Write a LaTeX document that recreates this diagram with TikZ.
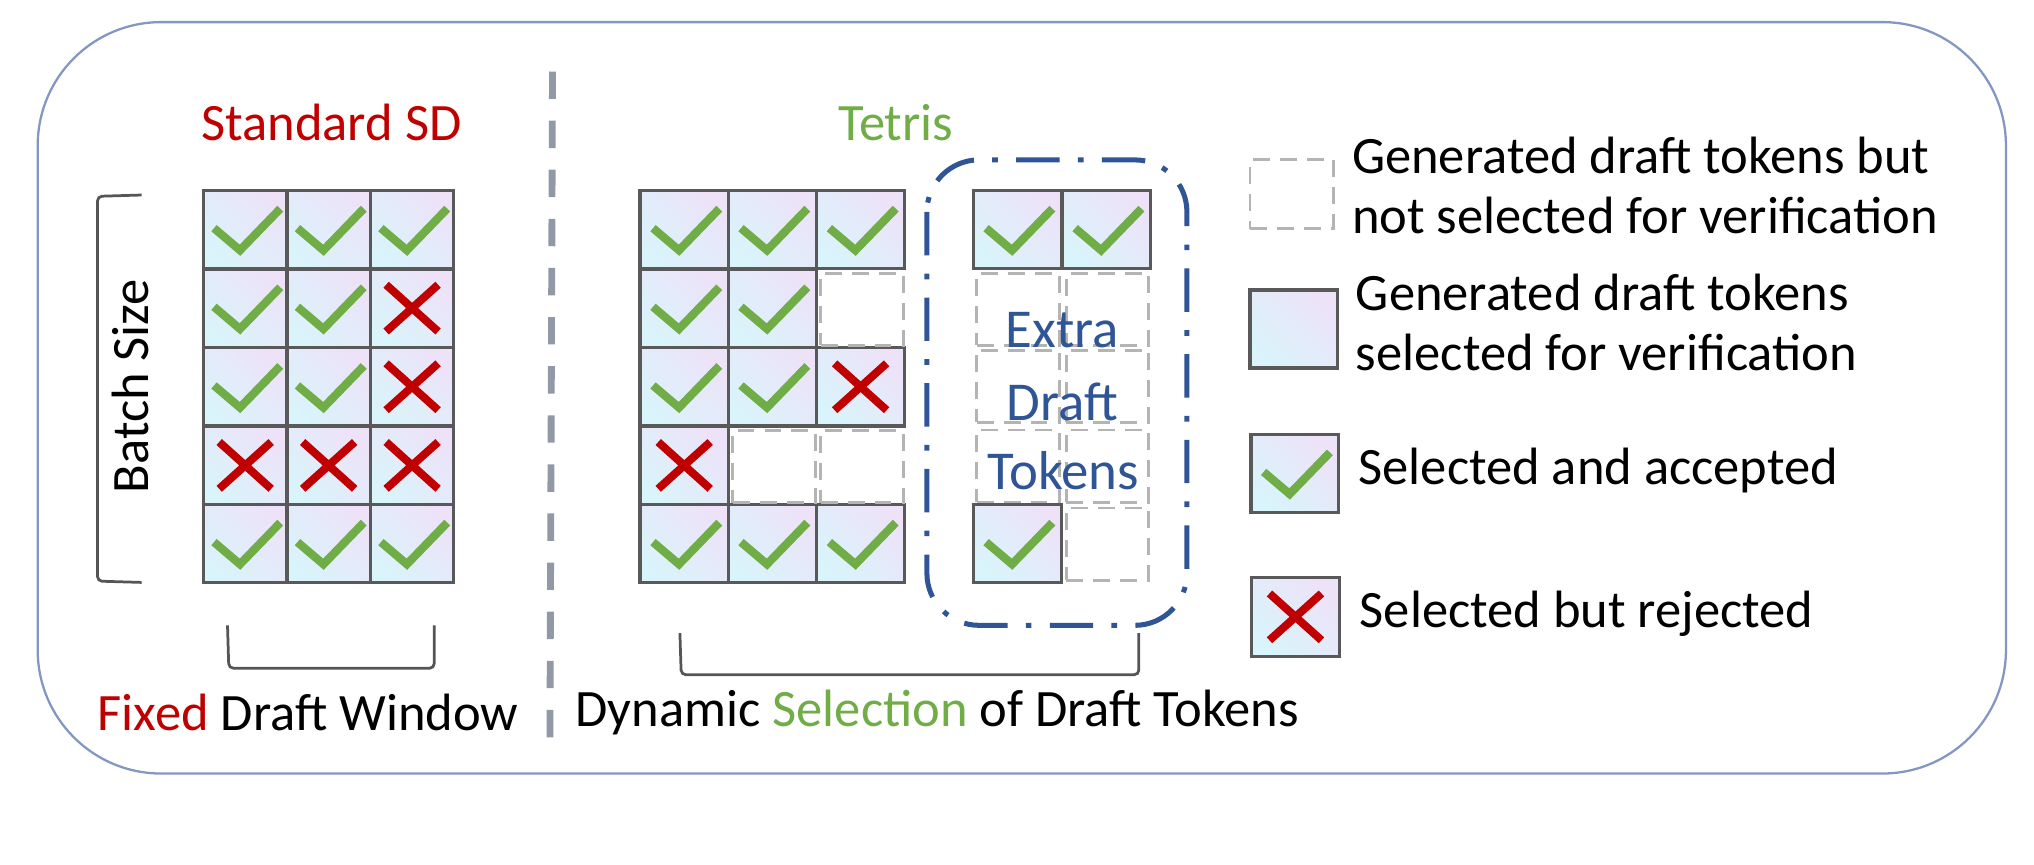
\documentclass[tikz,border=0pt]{standalone}
\usepackage{fontspec}
\setmainfont{Carlito}
\usetikzlibrary{calc}
\definecolor{outerc}{HTML}{8497C2}
\definecolor{sepc}{HTML}{9198A6}
\definecolor{cellborder}{HTML}{595959}
\definecolor{cellA}{HTML}{D9F4FB}
\definecolor{cellB}{HTML}{EEE2F8}
\definecolor{okgreen}{HTML}{70AD47}
\definecolor{badred}{HTML}{C00000}
\definecolor{extrablue}{HTML}{2F5597}
\definecolor{dashgray}{HTML}{B4B4B4}
\definecolor{brk}{HTML}{555555}
\newcommand{\mkchk}[1]{\draw[chkline] ([shift={(-24,-1)}]#1.center) -- ([shift={(-4,16)}]#1.center) -- ([shift={(27,-16)}]#1.center);}
\newcommand{\mkcrs}[1]{\draw[crsline] ([shift={(-20,-18)}]#1.center) -- ([shift={(20,18)}]#1.center) ([shift={(20,-18)}]#1.center) -- ([shift={(-20,18)}]#1.center);}
\tikzset{
  txt/.style={font=\fontsize{23pt}{26pt}\selectfont, inner sep=0pt, outer sep=0pt},
  bigtxt/.style={font=\fontsize{24pt}{27pt}\selectfont, inner sep=0pt, outer sep=0pt},
  cellbox/.style={draw=cellborder, line width=1.45pt, top color=cellB, bottom color=cellA, shading angle=-45, inner sep=0pt, outer sep=0pt},
  cellL/.style={cellbox, minimum width=1.284cm, minimum height=1.208cm},
  cellM/.style={cellbox, minimum width=1.356cm, minimum height=1.208cm},
  dashcell/.style={draw=dashgray, line width=1.3pt, dash pattern=on 7.4pt off 4.4pt, inner sep=0pt, outer sep=0pt},
  dcellM/.style={dashcell, minimum width=1.27cm, minimum height=1.11cm},
  chkline/.style={draw=okgreen, line width=3.6pt, line join=miter},
  crsline/.style={draw=badred, line width=3.5pt},
  bracket/.style={draw=brk, line width=1.2pt, rounded corners=2pt},
  outerbox/.style={draw=outerc, line width=1pt, rounded corners=1.9cm},
  sepline/.style={draw=sepc, line width=3pt, dash pattern=on 12pt off 9.5pt},
  extrabox/.style={draw=extrablue, line width=2.2pt, rounded corners=0.8cm, dash pattern=on 19pt off 8pt on 2.5pt off 8pt},
}
\begin{document}
\begin{tikzpicture}[x=0.02cm, y=-0.02cm]
\useasboundingbox (0,0) rectangle (1564.6,664.6);
% outer frame
\draw[outerbox] (29,17) rectangle (1543,595);
% separator
\draw[sepline] (425,55) -- (423,572);

% titles
\node[txt, text=badred] (tstd) at (255,94) {Standard SD};
\node[txt, text=okgreen] (ttet) at (689,94) {Tetris};

% left grid
\foreach \r/\y in {1/176.5,2/237,3/297.5,4/358,5/418}{
  \foreach \c/\x in {1/188.6,2/252.8,3/317}{
    \node[cellL] (L\r\c) at (\x,\y) {};
  }
}
\foreach \n in {L11,L12,L13,L21,L22,L31,L32,L51,L52,L53} {\mkchk{\n}}
\foreach \n in {L23,L33,L41,L42,L43} {\mkcrs{\n}}

% batch size bracket
\draw[bracket] (109,150) -- (75,151) -- (75,447) -- (109,448);
\node[txt, rotate=90] (bs) at (100,297) {Batch Size};

% left bottom bracket
\draw[bracket] (175,481) -- (176,514) -- (334,514) -- (334,481);
\node[txt] (fdw) at (237,548) {\textcolor{badred}{Fixed} Draft Window};

% middle grid
\foreach \n/\x/\y in {M11/526.3/176.5, M12/594/176.5, M13/662/176.5,
                      M21/526.3/237, M22/594/237,
                      M31/526.3/297.5, M32/594/297.5, M33/662/297.5,
                      M41/526.3/358,
                      M51/526.3/418, M52/594/418, M53/662/418}{
  \node[cellM] (\n) at (\x,\y) {};
}
\foreach \n/\x/\y in {M23/663/238, M42/595.5/359, M43/663/359}{
  \node[dcellM] (\n) at (\x,\y) {};
}
\foreach \n in {M11,M12,M13,M21,M22,M31,M32,M51,M52,M53} {\mkchk{\n}}
\foreach \n in {M33,M41} {\mkcrs{\n}}

% extra tokens
\foreach \n/\x/\y in {E21/783/238, E22/852/238, E31/783/297, E32/852/297,
                      E41/783/358.5, E42/852/358.5, E52/852/418.5}{
  \node[dcellM] (\n) at (\x,\y) {};
}
\foreach \n/\x/\y in {E11/782.5/176.5, E12/851/176.5, E51/782.5/418}{
  \node[cellM] (\n) at (\x,\y) {};
}
\foreach \n in {E11,E12,E51} {\mkchk{\n}}
\draw[extrabox] (713,123) rectangle (913,481);
\node[bigtxt, text=extrablue] (ex1) at (817,254) {Extra};
\node[bigtxt, text=extrablue] (ex2) at (817,309) {Draft};
\node[bigtxt, text=extrablue] (ex3) at (818,362) {Tokens};

% tetris bottom bracket
\draw[bracket] (523,487) -- (524,519) -- (876,519) -- (876,487);
\node[txt] (dyn) at (721,548) {Dynamic \textcolor{okgreen}{Selection} of Draft Tokens};

% legend
\node[dashcell, minimum width=1.28cm, minimum height=1.06cm] (G1) at (993.5,149.5) {};
\node[cellbox, minimum width=1.35cm, minimum height=1.2cm] (G2) at (995.3,253) {};
\node[cellbox, minimum width=1.35cm, minimum height=1.2cm] (G3) at (996,364) {};
\node[cellbox, minimum width=1.36cm, minimum height=1.22cm] (G4) at (996.5,474.5) {};
\mkchk{G3}
\mkcrs{G4}
\node[txt, anchor=west, align=left] (g1t) at (1040,142.5) {Generated draft tokens but\\not selected for verification};
\node[txt, anchor=west, align=left] (g2t) at (1043,248) {Generated draft tokens\\selected for verification};
\node[txt, anchor=west] (g3t) at (1045,362) {Selected and accepted};
\node[txt, anchor=west] (g4t) at (1046,472) {Selected but rejected};
\end{tikzpicture}
\end{document}
